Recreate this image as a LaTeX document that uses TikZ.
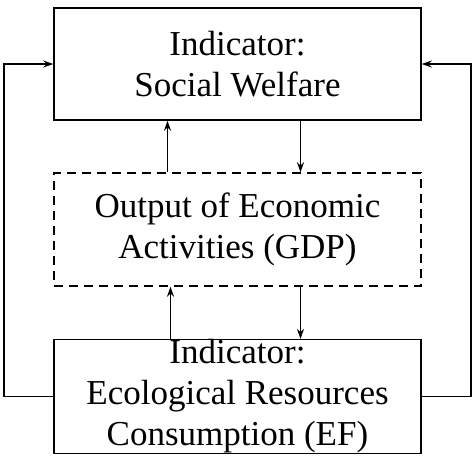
\documentclass[tikz,border=0pt]{standalone}
\usepackage{fontspec}
\setmainfont{Liberation Serif}
\usepackage{tikz}
\usetikzlibrary{calc,arrows.meta,positioning}

\begin{document}
\begin{tikzpicture}[x=1pt, y=-1pt,
        box/.style={draw, line width=1.5pt, minimum width=367pt, inner sep=0pt, align=center,
            font=\fontsize{35}{41}\selectfont},
        link/.style={line width=1.8pt, -{Stealth[length=10pt, width=7pt]}}]
        \useasboundingbox (0, 0) rectangle (474, 459);
        \node [box, minimum height=112pt] (welfare) at (237.5, 64) {Indicator:\\Social Welfare}; % top
        \node [box, minimum height=113pt, dash pattern=on 9pt off 6pt] (gdp) at (237.5, 229.5) {Output of Economic\\Activities (GDP)}; % middle
        \node [box, minimum height=113pt] (ef) at (237.5, 396.5) {Indicator:\\Ecological Resources\\Consumption (EF)}; % bottom

        \draw [link] ($(gdp.north)+(-70, 0)$) -- ($(welfare.south)+(-70, 0)$);
        \draw [link] ($(welfare.south)+(63, 0)$) -- ($(gdp.north)+(63, 0)$);
        \draw [link] ($(ef.north)+(-67, 0)$) -- ($(gdp.south)+(-67, 0)$);
        \draw [link] ($(gdp.south)+(63, 0)$) -- ($(ef.north)+(63, 0)$);

        \draw [link] (ef.west) -- ++(-49, 0) |- (welfare.west);  % feedback left
        \draw [link] (ef.east) -- ++(49, 0) |- (welfare.east);   % feedback right
    \end{tikzpicture}
\end{document}
